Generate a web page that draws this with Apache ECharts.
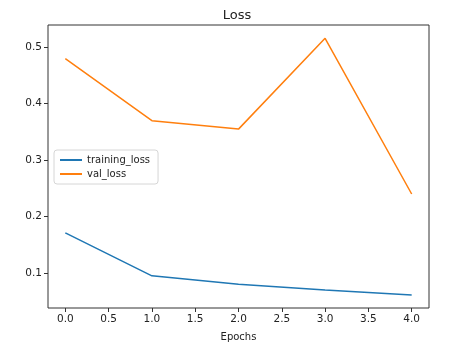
<!DOCTYPE html>
<html>
<head>
<meta charset="utf-8">
<script src="https://cdn.jsdelivr.net/npm/echarts@6/dist/echarts.min.js"></script>
<style>
  html, body { margin: 0; padding: 0; background: #fff; }
  #chart { width: 474px; height: 353px; }
</style>
</head>
<body>
<div id="chart"></div>
<script>
// epochs and losses
const epochs = [0, 1, 2, 3, 4];
const trainingLoss = [0.171, 0.095, 0.080, 0.070, 0.061];
const valLoss = [0.480, 0.370, 0.355, 0.516, 0.240];
const xTicks = [0, 0.5, 1, 1.5, 2, 2.5, 3, 3.5, 4];
const yTicks = [0.1, 0.2, 0.3, 0.4, 0.5];

const font = "DejaVu Sans";
const chart = echarts.init(document.getElementById("chart"));

const option = {
  animation: false,
  backgroundColor: "#fff",
  title: {
    text: "Loss",
    left: "center",
    top: 4,
    textStyle: { fontFamily: font, fontSize: 13, fontWeight: "normal", color: "#222" },
  },
  grid: {
    left: 48,
    right: 45,
    top: 25,
    bottom: 45,
    show: true,
    borderColor: "#333",
    borderWidth: 1,
    backgroundColor: "#fff",
  },
  legend: {
    orient: "vertical",
    left: 54,
    top: 150,
    padding: [5, 8, 5, 6],
    itemGap: 4,
    itemWidth: 22,
    itemHeight: 2,
    borderColor: "#d6d6d6",
    borderWidth: 1,
    borderRadius: 3,
    textStyle: { fontFamily: font, fontSize: 10, color: "#222" },
    data: [
      { name: "training_loss", icon: "rect" },
      { name: "val_loss", icon: "rect" },
    ],
  },
  xAxis: {
    type: "value",
    min: -0.2,
    max: 4.2,
    name: "Epochs",
    nameLocation: "middle",
    nameGap: 24,
    nameTextStyle: { fontFamily: font, fontSize: 10, color: "#222" },
    axisLine: { show: false, onZero: false },
    splitLine: { show: false },
    axisTick: { show: true, customValues: xTicks, length: 4, lineStyle: { color: "#333" } },
    axisLabel: {
      customValues: xTicks,
      fontFamily: font,
      fontSize: 10.5,
      color: "#222",
      margin: 6,
      formatter: (v) => v.toFixed(1),
    },
  },
  yAxis: {
    type: "value",
    min: 0.038,
    max: 0.5395,
    axisLine: { show: false, onZero: false },
    splitLine: { show: false },
    axisTick: { show: true, customValues: yTicks, length: 4, lineStyle: { color: "#333" } },
    axisLabel: {
      customValues: yTicks,
      fontFamily: font,
      fontSize: 10.5,
      color: "#222",
      margin: 6,
      formatter: (v) => v.toFixed(1),
    },
  },
  series: [
    {
      name: "training_loss",
      type: "line",
      data: epochs.map((e, i) => [e, trainingLoss[i]]),
      symbol: "none",
      color: "#1f77b4",
      lineStyle: { width: 1.5, color: "#1f77b4" },
    },
    {
      name: "val_loss",
      type: "line",
      data: epochs.map((e, i) => [e, valLoss[i]]),
      symbol: "none",
      color: "#ff7f0e",
      lineStyle: { width: 1.5, color: "#ff7f0e" },
    },
  ],
};

option && chart.setOption(option);
</script>
</body>
</html>
